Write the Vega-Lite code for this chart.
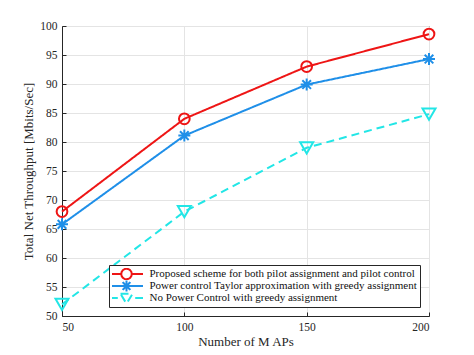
{
  "$schema": "https://vega.github.io/schema/vega-lite/v6.json",
  "width": 367,
  "height": 290,
  "autosize": "none",
  "padding": {"left": 62, "top": 26, "right": 45, "bottom": 39},
  "background": "white",
  "config": {
    "view": {"stroke": "#262626", "strokeWidth": 1},
    "font": "Liberation Serif",
    "axis": {
      "labelFont": "Liberation Serif",
      "titleFont": "Liberation Serif",
      "labelFontSize": 11.5,
      "titleFontSize": 13,
      "titleFontWeight": "normal",
      "labelColor": "#262626",
      "titleColor": "#262626",
      "domainColor": "#262626",
      "tickColor": "#262626",
      "gridColor": "#e4e4e4",
      "tickSize": -4
    }
  },
  "data": {
    "values": [
      {"M": 50, "series": "Proposed scheme for both pilot assignment and pilot control", "tp": 68.0},
      {"M": 100, "series": "Proposed scheme for both pilot assignment and pilot control", "tp": 84.0},
      {"M": 150, "series": "Proposed scheme for both pilot assignment and pilot control", "tp": 93.0},
      {"M": 200, "series": "Proposed scheme for both pilot assignment and pilot control", "tp": 98.6},
      {"M": 50, "series": "Power control Taylor approximation with greedy assignment", "tp": 65.8},
      {"M": 100, "series": "Power control Taylor approximation with greedy assignment", "tp": 81.1},
      {"M": 150, "series": "Power control Taylor approximation with greedy assignment", "tp": 89.9},
      {"M": 200, "series": "Power control Taylor approximation with greedy assignment", "tp": 94.3},
      {"M": 50, "series": "No Power Control with greedy assignment", "tp": 52.0},
      {"M": 100, "series": "No Power Control with greedy assignment", "tp": 68.0},
      {"M": 150, "series": "No Power Control with greedy assignment", "tp": 79.0},
      {"M": 200, "series": "No Power Control with greedy assignment", "tp": 84.8}
    ]
  },
  "encoding": {
    "x": {
      "field": "M", "type": "quantitative",
      "scale": {"domain": [50, 200], "nice": false, "zero": false},
      "axis": {"values": [50, 100, 150, 200], "title": "Number of M APs", "labelPadding": 9, "titlePadding": 3, "grid": true}
    },
    "y": {
      "field": "tp", "type": "quantitative",
      "scale": {"domain": [50, 100], "nice": false, "zero": false},
      "axis": {"values": [50, 55, 60, 65, 70, 75, 80, 85, 90, 95, 100], "title": "Total Net Throughput [Mbits/Sec]", "labelPadding": 9, "titlePadding": 4, "grid": true}
    },
    "color": {
      "field": "series", "type": "nominal",
      "scale": {
        "domain": ["Proposed scheme for both pilot assignment and pilot control", "Power control Taylor approximation with greedy assignment", "No Power Control with greedy assignment"],
        "range": ["#ee1515", "#1f8fe8", "#22e6e6"]
      },
      "legend": {
        "title": null,
        "orient": "bottom-right",
        "offset": 9,
        "padding": 3,
        "strokeColor": "#262626",
        "fillColor": "white",
        "labelFont": "Liberation Serif",
        "labelFontSize": 11,
        "labelColor": "#111111",
        "labelLimit": 400,
        "rowPadding": 0,
        "clipHeight": 12,
        "symbolSize": 144,
        "symbolStrokeWidth": 2,
        "symbolOpacity": 1,
        "symbolOffset": 7.5,
        "labelOffset": 16
      }
    }
  },
  "layer": [
    {
      "mark": {"type": "line", "strokeWidth": 2},
      "encoding": {
        "strokeDash": {
          "field": "series", "type": "nominal",
          "scale": {
            "domain": ["Proposed scheme for both pilot assignment and pilot control", "Power control Taylor approximation with greedy assignment", "No Power Control with greedy assignment"],
            "range": [[1, 0], [1, 0], [8, 5]]
          },
          "legend": null
        }
      }
    },
    {
      "transform": [{"filter": "datum.series == 'Proposed scheme for both pilot assignment and pilot control'"}],
      "mark": {"type": "point", "shape": "circle", "size": 115, "filled": false, "strokeWidth": 2, "opacity": 1}
    },
    {
      "transform": [{"filter": "datum.series == 'Power control Taylor approximation with greedy assignment'"}],
      "mark": {"type": "point", "shape": "M0,-1V1M-1,0H1M-0.72,-0.72L0.72,0.72M-0.72,0.72L0.72,-0.72", "size": 144, "filled": false, "strokeWidth": 2, "opacity": 1}
    },
    {
      "transform": [{"filter": "datum.series == 'No Power Control with greedy assignment'"}],
      "mark": {"type": "point", "shape": "triangle-down", "size": 170, "filled": false, "strokeWidth": 2, "opacity": 1}
    },
    {
      "mark": {"type": "point", "filled": false, "strokeWidth": 2, "opacity": 0, "size": 144},
      "encoding": {
        "shape": {
          "field": "series", "type": "nominal",
          "scale": {
            "domain": ["Proposed scheme for both pilot assignment and pilot control", "Power control Taylor approximation with greedy assignment", "No Power Control with greedy assignment"],
            "range": ["M-2.75,0H-0.88M0.88,0H2.75M0.88,0L0.81,0.34L0.62,0.62L0.34,0.81L0,0.88L-0.34,0.81L-0.62,0.62L-0.81,0.34L-0.88,0L-0.81,-0.34L-0.62,-0.62L-0.34,-0.81L0,-0.88L0.34,-0.81L0.62,-0.62L0.81,-0.34Z", "M-2.75,0H2.75M0,-0.9V0.9M-0.65,-0.65L0.65,0.65M-0.65,0.65L0.65,-0.65", "M-2.75,0H-1.45M1.45,0H2.75M-1.0,-0.7H1.0L0,0.95Z"]
          }
        }
      }
    }
  ]
}
